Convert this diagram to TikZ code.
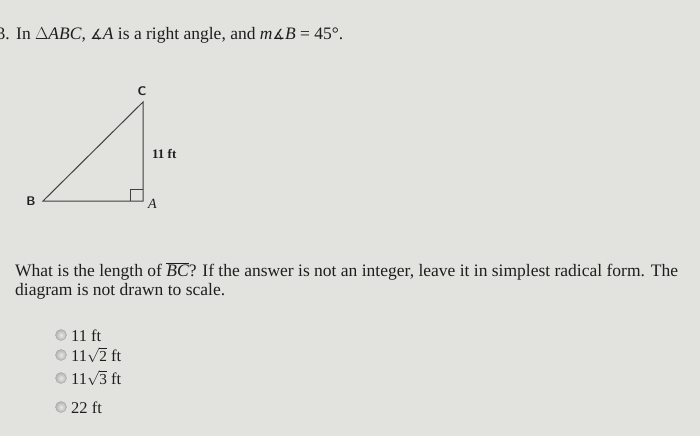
\documentclass[tikz,border=0pt]{standalone}
\usepackage{fontspec}
\setmainfont{Liberation Serif}
\newfontfamily\symfont{DejaVu Sans}
\definecolor{bg}{RGB}{226,226,223}
\definecolor{ink}{RGB}{30,30,30}
\definecolor{radiofill}{RGB}{180,180,177}
\newcommand{\smallroot}[1]{\raisebox{0pt}{\scalebox{0.85}{$\sqrt{\hbox{\fontsize{18}{20}\selectfont #1}}$}}}
\begin{document}
\begin{tikzpicture}[x=1pt,y=-1pt,
  txt/.style={inner sep=0pt,anchor=base west,text=ink,font=\fontsize{17.5}{20}\selectfont},
  opt/.style={txt,font=\fontsize{16.5}{18}\selectfont},
  lbl/.style={inner sep=0pt,text=ink,font=\fontsize{12.5}{14}\selectfont\bfseries\sffamily},
  edge/.style={draw=ink!85,line width=1pt},
  radio/.style={circle,inner sep=0pt,minimum size=11pt,draw=gray!70,inner color=white!70!radiofill,outer color=radiofill}]
\fill[bg] (0,0) rectangle (700,436);
\useasboundingbox (0,0) rectangle (700,436);
\begin{scope}
\clip (0,0) rectangle (700,436);
\node[txt,anchor=base east] (num) at (10,40) {3.};
\node[txt] (title) at (16,40) {In $\Delta$\textit{ABC}, {\symfont\fontsize{14}{16}\selectfont ∡}\textit{A} is a right angle, and \textit{m}{\symfont\fontsize{14}{16}\selectfont ∡}\textit{B} = 45°.};
\end{scope}
% triangle
\coordinate (B) at (43,201);
\coordinate (A) at (143,201);
\coordinate (C) at (143,102);
\draw[edge] (B) -- (A) -- (C) -- cycle;
\draw[ink!85,line width=0.8pt] (130,201) -- (130,189) -- (143,189);
\node[lbl] (lc) at (142,91) {C};
\node[lbl] (lb) at (31,201) {B};
\node[inner sep=0pt,anchor=base west,text=ink,font=\fontsize{14}{16}\selectfont\itshape] (la) at (148,208) {A};
\node[inner sep=0pt,anchor=base west,text=ink,font=\fontsize{13}{15}\selectfont\bfseries] (l11) at (152,158) {11 ft};
% paragraph
\node[txt] (q1) at (15,276) {What is the length of $\overline{\hbox{\textit{BC}}}$? If the answer is not an integer, leave it in simplest radical form. The};
\node[txt] (q2) at (15,295) {diagram is not drawn to scale.};
% options
\node[radio] (r1) at (61,335) {};
\node[radio] (r2) at (61,355) {};
\node[radio] (r3) at (61,378) {};
\node[radio] (r4) at (61,407) {};
\node[opt] (o1) at (71,341) {11 ft};
\node[opt] (o2) at (71,361) {11\smallroot{2} ft};
\node[opt] (o3) at (71,384) {11\smallroot{3} ft};
\node[opt] (o4) at (71,413) {22 ft};
\end{tikzpicture}
\end{document}
